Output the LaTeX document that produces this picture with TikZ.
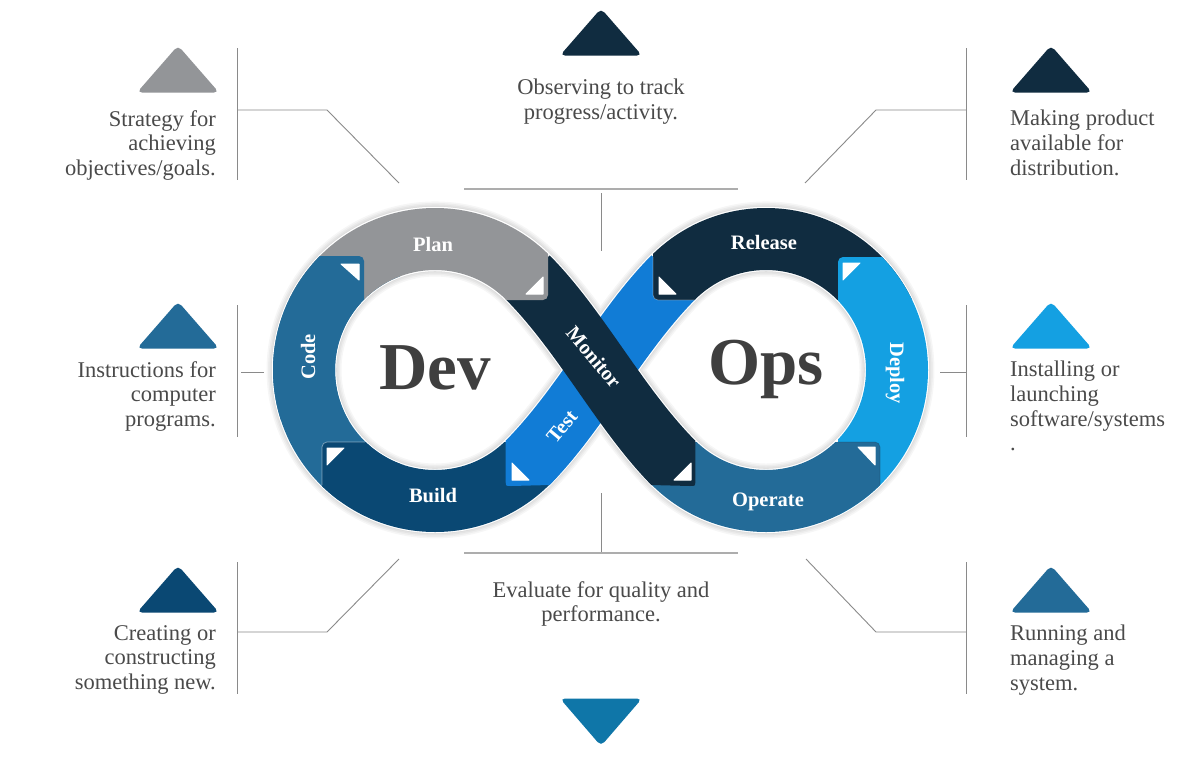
\documentclass[tikz,border=0pt]{standalone}
\usepackage{fontspec}
\setmainfont{Liberation Serif}
\definecolor{cPlan}{HTML}{939598}
\definecolor{cCode}{HTML}{236B98}
\definecolor{cBuild}{HTML}{0A4873}
\definecolor{cTest}{HTML}{117CD6}
\definecolor{cDark}{HTML}{102C40}
\definecolor{cDeploy}{HTML}{14A0E2}
\definecolor{cBot}{HTML}{0F76A8}
\definecolor{cTxt}{HTML}{4A4A4A}
\definecolor{cBig}{HTML}{3F3F3F}
\definecolor{cLine}{HTML}{8A8A8A}
\tikzset{
  leader/.style={draw=cLine,line width=0.9pt},
  leaderlight/.style={draw=cLine!70,line width=1.1pt},
  bodyl/.style={font=\fontsize{22.5}{24.6}\selectfont,text=cTxt,align=left,anchor=north west,inner sep=0pt},
  bodyr/.style={font=\fontsize{22.5}{24.6}\selectfont,text=cTxt,align=right,anchor=north east,inner sep=0pt},
  bodyc/.style={font=\fontsize{22.5}{24.6}\selectfont,text=cTxt,align=center,anchor=north,inner sep=0pt},
  seglabel/.style={font=\fontsize{20.5}{22}\selectfont\bfseries,text=white,inner sep=0pt},
  biglabel/.style={font=\fontsize{67}{70}\selectfont\bfseries,text=cBig,inner sep=0pt},
  tick/.style={fill=white,draw=white,line width=1pt,line join=round},
  icon/.style={rounded corners=5pt},
}
\newcommand{\annL}{(435,-370) circle[radius=162] (435,-370) circle[radius=100]}
\newcommand{\annR}{(766,-370) circle[radius=162] (766,-370) circle[radius=100]}
\newcommand{\silh}{
  (549.6,-255.4) arc[start angle=45,end angle=315,radius=162]
  .. controls (603,-431) and (642,-353) .. (695.3,-299.3)
  arc[start angle=135,end angle=-135,radius=100]
  .. controls (642,-387) and (603,-309) .. (549.6,-255.4)
  (505.7,-299.3) arc[start angle=45,end angle=315,radius=100]
  .. controls (559,-387) and (598,-309) .. (651.4,-255.4)
  arc[start angle=135,end angle=-135,radius=162]
  .. controls (598,-431) and (559,-353) .. (505.7,-299.3)
}
\newcommand{\upicon}[3]{\fill[#3,icon] (#1-41,-#2-43.5) -- (#1,-#2+3.5) -- (#1+41,-#2-43.5) -- cycle;}
\begin{document}
\begin{tikzpicture}[x=1pt,y=1pt]
\useasboundingbox (0,0) rectangle (1200,-756);
\fill[white] (0,0) rectangle (1200,-756);
% soft shadow and white rim
\foreach \w in {13,10,7,4}{\draw[black,opacity=0.035,line width=\w pt] \silh;}
\draw[white,line width=2.4pt] \silh;
% Code (base)
\begin{scope}\clip (200,-256) rectangle (400,-500);
\fill[cCode,even odd rule] \annL;\end{scope}
% Build
\begin{scope}\clip[rounded corners=5pt] (322,-442) rectangle (600,-600);
\fill[cBuild,even odd rule] \annL;\end{scope}
\draw[white,opacity=0.45,line width=0.7pt,rounded corners=5pt] (322,-485) -- (322,-442) -- (365,-442);
% Test
\fill[cTest] (651.4,-255.4) .. controls (598,-309) and (559,-387) .. (505.7,-440.7)
  -- (505.7,-481) .. controls (505.7,-486) .. (511,-486) -- (549.6,-485)
  .. controls (603,-431) and (642,-353) .. (695.3,-299.3) -- cycle;
% Release
\begin{scope}\clip[rounded corners=5pt] (653,-300) rectangle (1000,-150);
\fill[cDark,even odd rule] \annR;\end{scope}
\draw[white,opacity=0.35,line width=0.7pt,rounded corners=5pt] (653,-257) -- (653,-300) -- (695,-300);
% Deploy
\begin{scope}\clip[rounded corners=5pt] (838,-257) rectangle (1000,-560);
\fill[cDeploy,even odd rule] \annR;\end{scope}
% Operate
\begin{scope}\clip[rounded corners=5pt] (880,-442) rectangle (600,-600);
\fill[cCode,even odd rule] \annR;\end{scope}
\draw[cDark,opacity=0.25,line width=0.7pt,rounded corners=5pt] (838,-442) -- (880,-442) -- (880,-485);
% Monitor
\fill[cDark] (549.6,-255.4) .. controls (603,-309) and (642,-387) .. (695.3,-440.7)
  -- (695.3,-481) .. controls (695.3,-486) .. (690,-486) -- (651.4,-485)
  .. controls (598,-431) and (559,-353) .. (505.7,-299.3) -- cycle;
% Plan
\begin{scope}\clip[rounded corners=5pt] (200,-150) rectangle (548,-300);
\fill[cPlan,even odd rule] \annL;\end{scope}
% Code top corner
\begin{scope}\clip[rounded corners=5pt] (364,-256) rectangle (200,-420);
\fill[cCode,even odd rule] \annL;\end{scope}
% corner ticks
\filldraw[tick] (341,-264) -- (359,-264) -- (359,-280) -- cycle;
\filldraw[tick] (543,-277) -- (543,-294) -- (526,-294) -- cycle;
\filldraw[tick] (327,-448) -- (344,-448) -- (327,-465) -- cycle;
\filldraw[tick] (512,-463) -- (512,-480) -- (529,-480) -- cycle;
\filldraw[tick] (659,-277) -- (659,-294) -- (676,-294) -- cycle;
\filldraw[tick] (843,-263) -- (860,-263) -- (843,-280) -- cycle;
\filldraw[tick] (858,-447) -- (875,-447) -- (875,-465) -- cycle;
\filldraw[tick] (691,-463) -- (691,-480) -- (674,-480) -- cycle;
% segment labels
\node[seglabel] (lplan) at (433,-244) {Plan};
\node[seglabel,rotate=90] (lcode) at (308,-357) {Code};
\node[seglabel] (lbuild) at (433,-496) {Build};
\node[seglabel,rotate=50] (ltest) at (562,-427) {Test};
\node[seglabel,rotate=-50] (lmon) at (594,-357) {Monitor};
\node[seglabel] (lrel) at (764,-242) {Release};
\node[seglabel,rotate=-90] (ldep) at (895,-373) {Deploy};
\node[seglabel] (lop) at (768,-502) {Operate};
\node[biglabel] (dev) at (435,-368) {Dev};
\node[biglabel] (ops) at (766,-369) {Ops};
% icons
\upicon{178}{49}{cPlan}
\upicon{178}{305}{cCode}
\upicon{178}{569}{cBuild}
\upicon{601}{12}{cDark}
\upicon{1051}{49}{cDark}
\upicon{1051}{305}{cDeploy}
\upicon{1051}{569}{cCode}
\fill[cBot,icon] (560,-698.5) -- (642,-698.5) -- (601,-746) -- cycle;
% leaders
\draw[leader] (237,-48) -- (237,-180);
\draw[leader] (237,-110) -- (327,-110) -- (399,-183);
\draw[leader] (237,-305) -- (237,-437);
\draw[leader] (241,-372) -- (264,-372);
\draw[leader] (237,-562) -- (237,-694);
\draw[leader] (237,-632) -- (327,-632) -- (399,-559);
\draw[leader] (966,-48) -- (966,-180);
\draw[leader] (966,-110) -- (876,-110) -- (805,-183);
\draw[leader] (966,-305) -- (966,-437);
\draw[leader] (940,-372) -- (966,-372);
\draw[leader] (966,-562) -- (966,-694);
\draw[leader] (966,-632) -- (876,-632) -- (806,-559);
\draw[leaderlight] (464,-189) -- (738,-189);
\draw[leader] (601,-193) -- (601,-251);
\draw[leader] (601,-493) -- (601,-553);
\draw[leaderlight] (464,-553) -- (738,-553);
% texts
\node[bodyr] (t1) at (216,-110) {Strategy for\\achieving\\objectives/goals.};
\node[bodyr] (t2) at (216,-361) {Instructions for\\computer\\programs.};
\node[bodyr] (t3) at (216,-625) {Creating or\\constructing\\something new.};
\node[bodyc] (t4) at (601,-79) {Observing to track\\progress/activity.};
\node[bodyc] (t5) at (601,-581) {Evaluate for quality and\\performance.};
\node[bodyl] (t6) at (1010,-110) {Making product\\available for\\distribution.};
\node[bodyl] (t7) at (1010,-361) {Installing or\\launching\\software/systems\\.};
\node[bodyl] (t8) at (1010,-625) {Running and\\managing a\\system.};
\end{tikzpicture}
\end{document}
